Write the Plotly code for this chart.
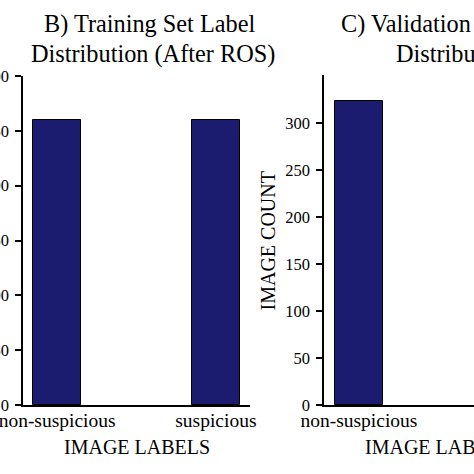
import plotly.graph_objects as go

# Data
categories = ["non-suspicious", "suspicious"]
train_after_ros = [1300, 1300]
validation_counts = [323, 81]
train_yticks = [0, 250, 500, 750, 1000, 1250, 1500]
val_yticks = [0, 50, 100, 150, 200, 250, 300]

W = H = 474
BAR = "#1b1b6f"
FONT = "Liberation Serif, Times New Roman, serif"

def px_x(p):
    return p / W

def px_y(p):
    return 1 - p / H

fig = go.Figure()
fig.add_trace(go.Bar(x=[0, 1], y=train_after_ros, width=0.3,
                     marker=dict(color=BAR, line=dict(color="black", width=1)),
                     xaxis="x", yaxis="y", showlegend=False))
fig.add_trace(go.Bar(x=[0, 1], y=validation_counts, width=0.3,
                     marker=dict(color=BAR, line=dict(color="black", width=1)),
                     xaxis="x2", yaxis="y2", showlegend=False))

axis_common = dict(showgrid=False, zeroline=False, showline=True,
                   linecolor="black", linewidth=1.5, automargin=False,
                   ticklabeloverflow="allow")
xtf = dict(size=19.5, family=FONT, color="black")
ytf = dict(size=16.5, family=FONT, color="black")

fig.update_layout(
    width=W, height=H,
    margin=dict(l=0, r=0, t=0, b=0),
    paper_bgcolor="white", plot_bgcolor="white",
    font=dict(family=FONT, color="black"),
    xaxis=dict(domain=[px_x(23), px_x(250)], range=[-0.215, 1.215],
               tickmode="array", tickvals=[0, 1], ticktext=categories,
               ticks="", tickfont=xtf, ticklabelstandoff=-3,
               anchor="y", **axis_common),
    yaxis=dict(domain=[px_y(405), px_y(76)], range=[0, 1500],
               tickmode="array", tickvals=train_yticks,
               ticks="outside", ticklen=6, tickwidth=1.5, tickcolor="black",
               tickfont=ytf, ticklabelstandoff=3, anchor="x", **axis_common),
    xaxis2=dict(domain=[px_x(324), 1.0], range=[-0.22, 0.725],
                tickmode="array", tickvals=[0, 1], ticktext=categories,
                ticks="", tickfont=xtf, ticklabelstandoff=-3,
                anchor="y2", **axis_common),
    yaxis2=dict(domain=[px_y(405), px_y(75)], range=[0, 351],
                tickmode="array", tickvals=val_yticks,
                ticks="outside", ticklen=6, tickwidth=1.5, tickcolor="black",
                tickfont=ytf, ticklabelstandoff=3, anchor="x2", **axis_common),
    bargap=0,
)

ann = []
def text(x, y, s, size, xanchor="center", angle=0):
    ann.append(dict(x=px_x(x), y=px_y(y), xref="paper", yref="paper",
                    text=s, showarrow=False, xanchor=xanchor, yanchor="middle",
                    textangle=angle, font=dict(size=size, family=FONT, color="black")))

text(149, 24, "B) Training Set Label", 24.3)
text(152.5, 54, "Distribution (After ROS)", 24.3)
text(339, 24, "C) Validation Set Label", 24.3, xanchor="left")
text(394, 54, "Distribution", 24.3, xanchor="left")
text(136.5, 447, "IMAGE LABELS", 20)
text(437.5, 447, "IMAGE LABELS", 20)
text(267, 241.5, "IMAGE COUNT", 20, angle=-90)
fig.update_layout(annotations=ann)

fig.write_html("out.html")
